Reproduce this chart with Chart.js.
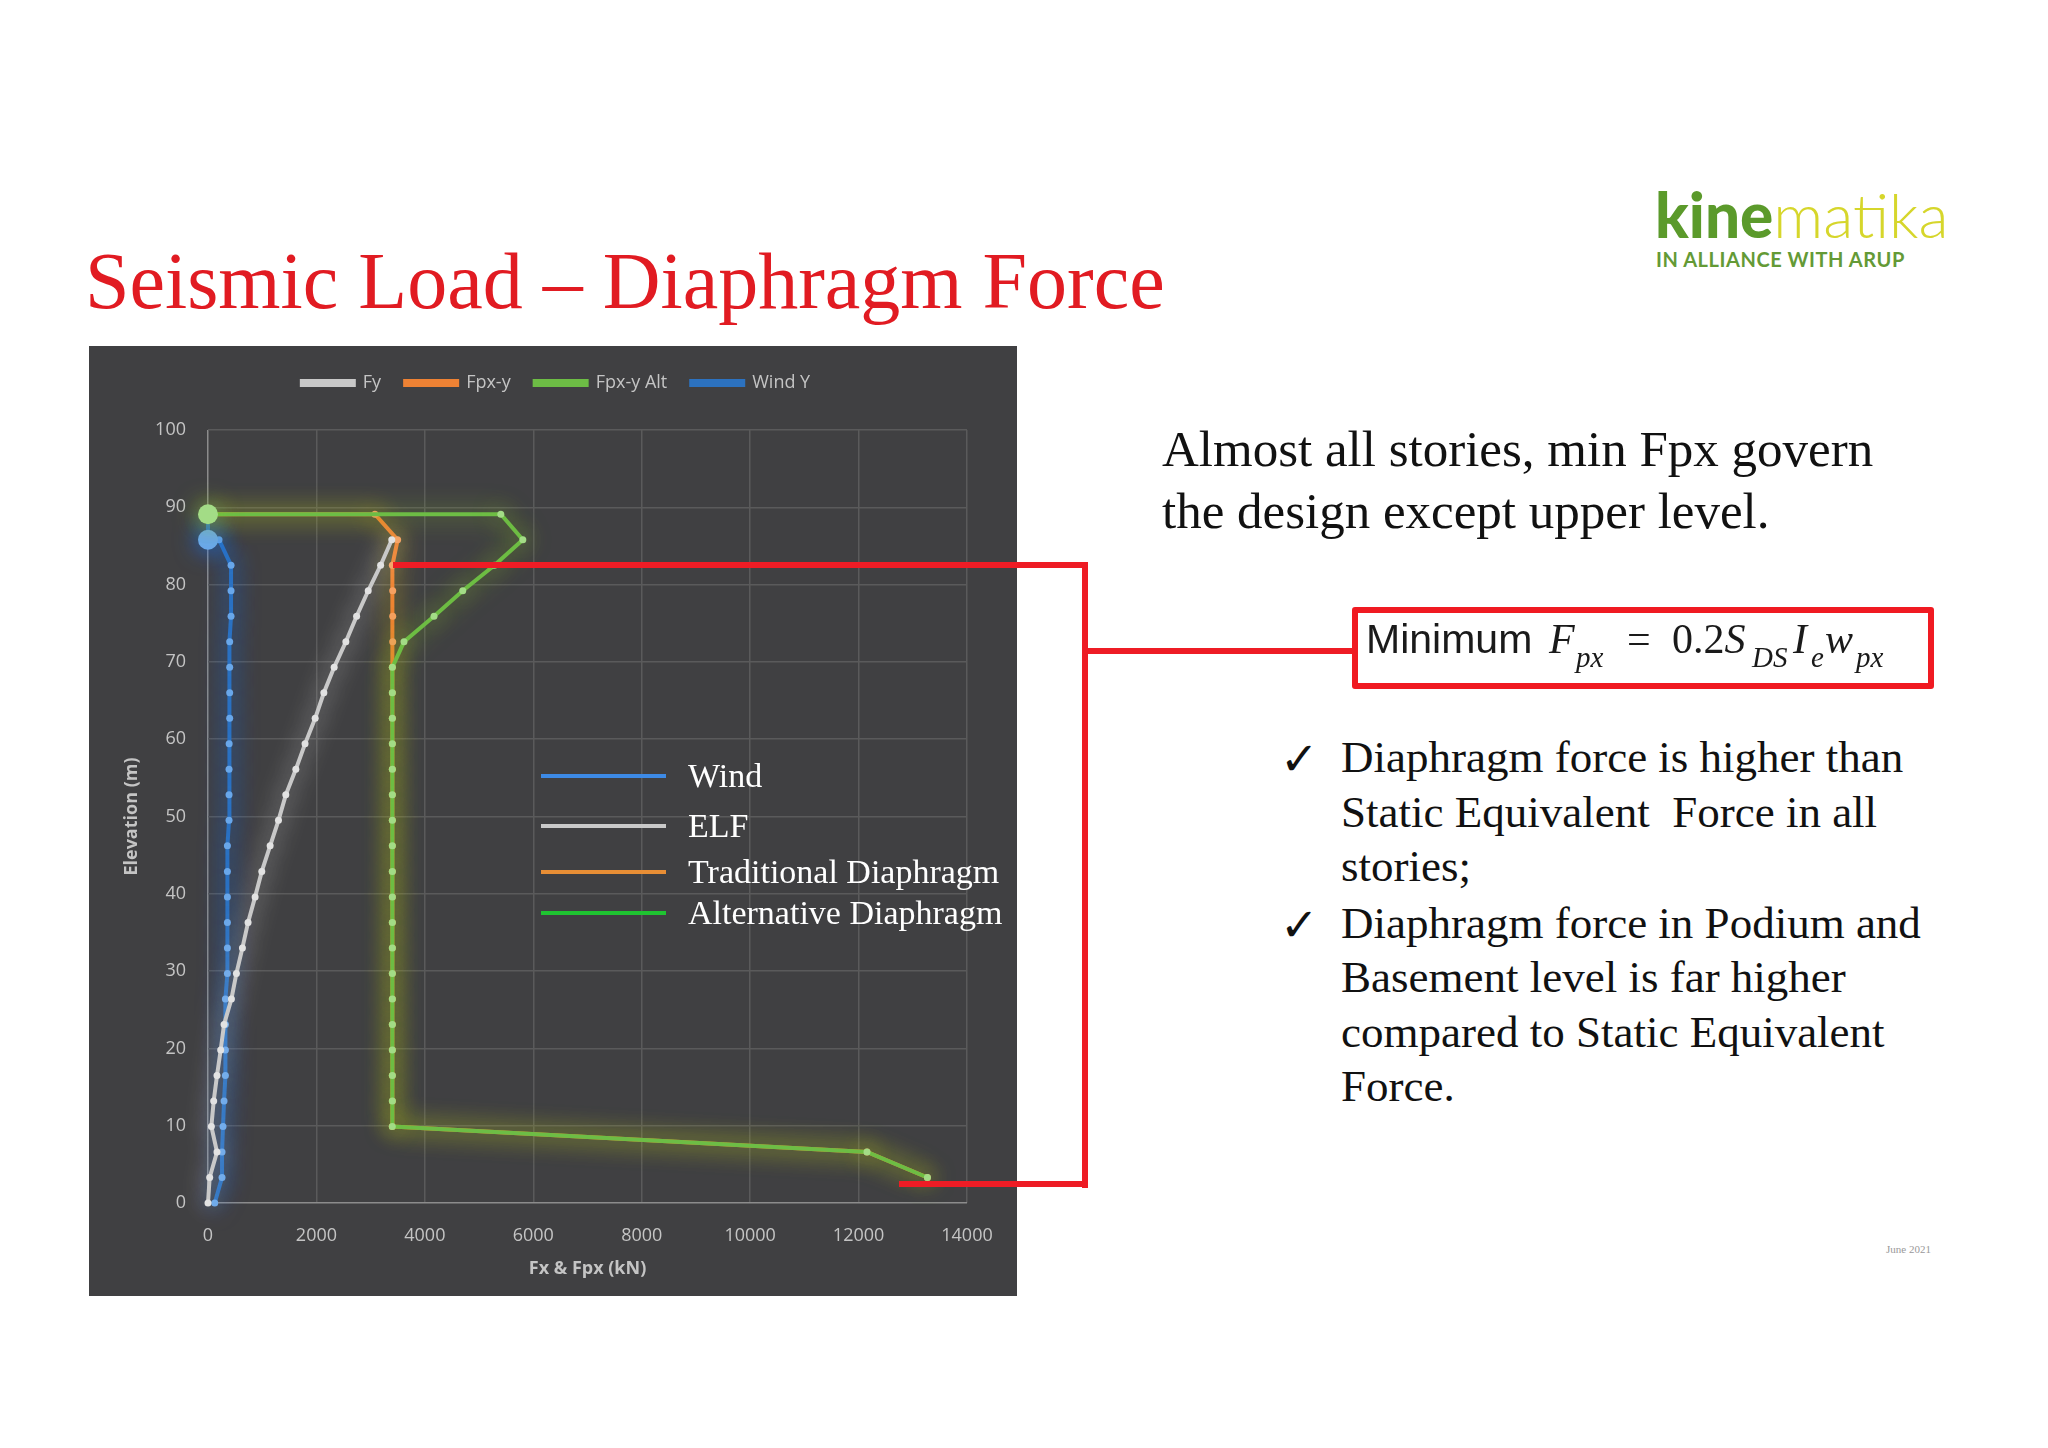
<!DOCTYPE html>
<html>
<head>
<meta charset="utf-8">
<script src="https://cdn.jsdelivr.net/npm/chart.js@4.4.1/dist/chart.umd.min.js"></script>
<style>
  body { margin: 0; width: 2048px; height: 1448px; background: #fff; position: relative; overflow: hidden; font-family: "Liberation Serif", serif; }
  .abs { position: absolute; white-space: nowrap; }
  #title { left: 85px; top: 241px; font-size: 80px; line-height: 80px; color: #e11b22; }
  #logo { left: 1655px; top: 183px; font-family: Lato, sans-serif; font-size: 62px; line-height: 62px; }
  #logo .k { color: #5b9a2b; font-weight: 900; }
  #logo .m { color: #d6d62b; font-weight: 300; }
  #alliance { left: 1656px; top: 248px; font-family: Lato, sans-serif; font-size: 20px; line-height: 22px; color: #649a36; font-weight: 700; letter-spacing: 0.55px; }
  #panel { left: 89px; top: 346px; width: 928px; height: 950px; background: #404042; }
  #note { left: 1162px; top: 418px; font-size: 51px; line-height: 62px; color: #111; }
  #box { left: 1352px; top: 607px; width: 570px; height: 70px; border: 6px solid #f01a22; border-radius: 3px; }
  .f { position: absolute; white-space: nowrap; color: #1a1a1a; }
  .sans { font-family: "Liberation Sans", sans-serif; font-size: 41px; line-height: 41px; }
  .mth { font-family: "Liberation Serif", serif; font-size: 42px; line-height: 42px; }
  .sub { font-family: "Liberation Serif", serif; font-style: italic; font-size: 29px; line-height: 29px; }
  .it { font-style: italic; }
  #bullets { left: 1280px; top: 730px; font-size: 45px; line-height: 54.5px; color: #111; }
  #bullets .chk { position: absolute; left: 0; top: 2px; font-family: "DejaVu Sans", sans-serif; font-size: 46px; }
  #bullets .txt { margin-left: 61px; }
  .red { position: absolute; background: #ee1c25; }
  #inlegend { left: 541px; top: 753px; font-size: 34px; line-height: 45px; color: #fff; }
  #inlegend div { position: relative; }
  #inlegend span.ln { position: absolute; left: 0; top: 21px; width: 125px; height: 4px; }
  #inlegend span.tx { position: absolute; left: 147px; top: 0; }
  #date { left: 1886px; top: 1243px; font-size: 11px; color: #999; }
</style>
</head>
<body>
<div id="title" class="abs">Seismic Load – Diaphragm Force</div>
<div id="logo" class="abs"><span class="k">kine</span><span class="m">matika</span></div>
<div id="alliance" class="abs">IN ALLIANCE WITH ARUP</div>

<div id="panel" class="abs"><canvas id="chart" width="928" height="950"></canvas></div>

<div id="inlegend" class="abs">
  <div style="height:50px"><span class="ln" style="background:#3d8ae6"></span><span class="tx">Wind</span></div>
  <div style="height:46px"><span class="ln" style="background:#c9c9c9"></span><span class="tx">ELF</span></div>
  <div style="height:41px"><span class="ln" style="background:#e88e35"></span><span class="tx">Traditional Diaphragm</span></div>
  <div style="height:45px"><span class="ln" style="background:#1fc431"></span><span class="tx">Alternative Diaphragm</span></div>
</div>

<div class="red" style="left:393px; top:562px; width:694px; height:6px;"></div>
<div class="red" style="left:1082px; top:562px; width:6px; height:626px;"></div>
<div class="red" style="left:899px; top:1181px; width:189px; height:6px;"></div>
<div class="red" style="left:1082px; top:648px; width:272px; height:6px;"></div>

<div id="note" class="abs">Almost all stories, min Fpx govern<br>the design except upper level.</div>

<div id="box" class="abs"></div>
<div class="f sans" style="left:1366px; top:619px;">Minimum</div>
<div class="f mth it" style="left:1549px; top:618px;">F</div>
<div class="f sub" style="left:1576px; top:643px;">px</div>
<div class="f mth" style="left:1627px; top:618px;">=</div>
<div class="f mth" style="left:1672px; top:618px;">0.2<span class="it">S</span></div>
<div class="f sub" style="left:1752px; top:643px;">DS</div>
<div class="f mth it" style="left:1793px; top:618px;">I</div>
<div class="f sub" style="left:1811px; top:643px;">e</div>
<div class="f mth it" style="left:1825px; top:618px;">w</div>
<div class="f sub" style="left:1856px; top:643px;">px</div>

<div id="bullets" class="abs">
  <div style="position:relative"><span class="chk">✓</span><div class="txt">Diaphragm force is higher than<br>Static Equivalent&nbsp; Force in all<br>stories;</div></div>
  <div style="position:relative; margin-top:2px"><span class="chk">✓</span><div class="txt">Diaphragm force in Podium and<br>Basement level is far higher<br>compared to Static Equivalent<br>Force.</div></div>
</div>

<div id="date" class="abs">June 2021</div>

<script>
// Fy (ELF) - storey forces
const fyElev = [0, 3.3, 6.6, 9.9, 13.2, 16.5, 19.8, 23.1, 26.4, 29.7, 33, 36.3, 39.6, 42.9, 46.2, 49.5, 52.8, 56.1, 59.4, 62.7, 66, 69.3, 72.6, 75.9, 79.2, 82.5, 85.8];
const fyForce = [0, 31, 166, 62, 105, 166, 234, 296, 432, 524, 635, 739, 869, 992, 1146, 1300, 1435, 1620, 1790, 1977, 2137, 2327, 2543, 2741, 2955, 3184, 3390];

// Fpx-y (traditional diaphragm)
const fpxElev = [3.3, 6.6, 9.9, 13.2, 16.5, 19.8, 23.1, 26.4, 29.7, 33, 36.3, 39.6, 42.9, 46.2, 49.5, 52.8, 56.1, 59.4, 62.7, 66, 69.3, 72.6, 75.9, 79.2, 82.5, 85.8, 89.1, 89.1];
const fpxForce = [13270, 12155, 3399, 3400, 3400, 3400, 3400, 3400, 3400, 3400, 3400, 3400, 3400, 3400, 3400, 3400, 3400, 3400, 3400, 3400, 3400, 3407, 3407, 3407, 3400, 3498, 3079, 0];

// Fpx-y Alt (alternative diaphragm)
const altElev = [3.3, 6.6, 9.9, 13.2, 16.5, 19.8, 23.1, 26.4, 29.7, 33, 36.3, 39.6, 42.9, 46.2, 49.5, 52.8, 56.1, 59.4, 62.7, 66, 69.3, 72.6, 75.9, 79.2, 82.5, 85.8, 89.1, 89.1];
const altForce = [13270, 12155, 3399, 3400, 3400, 3400, 3400, 3400, 3400, 3400, 3400, 3400, 3400, 3400, 3400, 3400, 3400, 3400, 3400, 3400, 3400, 3615, 4169, 4699, 5283, 5807, 5401, 0];

// Wind Y
const windElev = [0, 3.3, 6.6, 9.9, 13.2, 16.5, 19.8, 23.1, 26.4, 29.7, 33, 36.3, 39.6, 42.9, 46.2, 49.5, 52.8, 56.1, 59.4, 62.7, 66, 69.3, 72.6, 75.9, 79.2, 82.5, 85.8, 85.8, 89.1];
const windForce = [124, 259, 259, 277, 296, 321, 321, 321, 321, 358, 358, 358, 358, 358, 358, 388, 388, 388, 390, 400, 400, 400, 400, 425, 425, 425, 203, 0, 0];

const xTicks = [0, 2000, 4000, 6000, 8000, 10000, 12000, 14000];
const yTicks = [0, 10, 20, 30, 40, 50, 60, 70, 80, 90, 100];

function pts(xs, ys) {
    return xs.map(function(x, i) { return {x: x, y: ys[i]}; });
}

// soft glow round each series, like the Excel effect
const glowPlugin = {
    id: 'glow',
    beforeDatasetDraw(chart, args) {
        const ds = chart.data.datasets[args.index];
        chart.ctx.save();
        chart.ctx.shadowColor = ds.glowColor;
        chart.ctx.shadowBlur = 24;
    },
    afterDatasetDraw(chart) {
        chart.ctx.restore();
    }
};

// extra gap under the legend, and centre it on the whole panel
const legendSpacer = {
    id: 'legendSpacer',
    beforeLayout(chart) {
        const legend = chart.legend;
        if (legend && !legend._spaced) {
            const fit = legend.fit;
            legend.fit = function() { fit.call(this); this.height += 28; };
            legend._spaced = true;
        }
    },
    afterLayout(chart) {
        if (chart.legend) {
            chart.legend.left = 6;
            chart.legend.right = chart.width;
        }
    }
};

const tickFont = { family: 'Open Sans', size: 18 };
const axisGrey = '#c4c4c4';

const ctx = document.getElementById('chart').getContext('2d');
new Chart(ctx, {
    type: 'scatter',
    data: {
        datasets: [{
            label: 'Fy',
            data: pts(fyForce, fyElev),
            showLine: true,
            borderColor: '#c8c8c8',
            backgroundColor: '#c8c8c8',
            pointBackgroundColor: '#e2e2e2',
            glowColor: 'rgba(255,255,255,0.6)',
            order: 1
        }, {
            label: 'Fpx-y',
            data: pts(fpxForce, fpxElev),
            showLine: true,
            borderColor: '#ee8234',
            backgroundColor: '#ee8234',
            pointBackgroundColor: '#f6a060',
            glowColor: 'rgba(235,205,20,0.85)',
            order: 3
        }, {
            label: 'Fpx-y Alt',
            data: pts(altForce, altElev),
            showLine: true,
            borderColor: '#6dbd45',
            backgroundColor: '#6dbd45',
            pointBackgroundColor: '#a3dc86',
            glowColor: 'rgba(150,210,40,0.8)',
            pointRadius: function(c) { return c.raw && c.raw.x === 0 ? 10 : 3.5; },
            order: 2
        }, {
            label: 'Wind Y',
            data: pts(windForce, windElev),
            showLine: true,
            borderColor: '#2c72c0',
            backgroundColor: '#2c72c0',
            pointBackgroundColor: '#6aa8ea',
            glowColor: 'rgba(30,120,255,0.9)',
            pointRadius: function(c) { return c.raw && c.raw.x === 0 && c.raw.y < 86 ? 10 : 3.5; },
            order: 4
        }]
    },
    options: {
        responsive: false,
        animation: false,
        layout: { padding: { top: 4, right: 50, left: 0, bottom: 0 } },
        elements: {
            line: { borderWidth: 4, tension: 0 },
            point: { radius: 3.5, borderWidth: 0, hoverRadius: 4 }
        },
        datasets: { scatter: { clip: false } },
        plugins: {
            legend: {
                position: 'top',
                labels: {
                    color: axisGrey,
                    font: { family: 'Open Sans', size: 18 },
                    boxWidth: 52,
                    boxHeight: 4,
                    padding: 24,
                    sort: function(a, b) { return a.datasetIndex - b.datasetIndex; }
                }
            },
            tooltip: { enabled: false }
        },
        scales: {
            x: {
                type: 'linear',
                min: 0,
                max: 14000,
                afterBuildTicks: function(scale) { scale.ticks = xTicks.map(function(v) { return {value: v}; }); },
                ticks: {
                    color: axisGrey,
                    font: tickFont,
                    padding: 22,
                    callback: function(value) { return String(value); }
                },
                grid: {
                    color: function(c) { return c.tick && c.tick.value === 0 ? '#8c8c8c' : '#5a5a5b'; },
                    lineWidth: 1.5,
                    drawTicks: false
                },
                border: { display: false },
                title: {
                    display: true,
                    text: 'Fx & Fpx (kN)',
                    color: axisGrey,
                    font: { family: 'Open Sans', size: 18, weight: 'bold' },
                    padding: { top: 0, bottom: 16 }
                },
                afterFit: function(scale) { scale.height = 93; }
            },
            y: {
                min: 0,
                max: 100,
                afterBuildTicks: function(scale) { scale.ticks = yTicks.map(function(v) { return {value: v}; }); },
                ticks: {
                    color: axisGrey,
                    font: tickFont,
                    padding: 22
                },
                grid: {
                    color: function(c) { return c.tick && c.tick.value === 0 ? '#8c8c8c' : '#5a5a5b'; },
                    lineWidth: 1.5,
                    drawTicks: false
                },
                border: { display: false },
                title: {
                    display: true,
                    text: 'Elevation (m)',
                    color: axisGrey,
                    font: { family: 'Open Sans', size: 18, weight: 'bold' },
                    padding: { top: 32, bottom: 0 }
                },
                afterFit: function(scale) { scale.width = 119; }
            }
        }
    },
    plugins: [glowPlugin, legendSpacer]
});
</script>
</body>
</html>
